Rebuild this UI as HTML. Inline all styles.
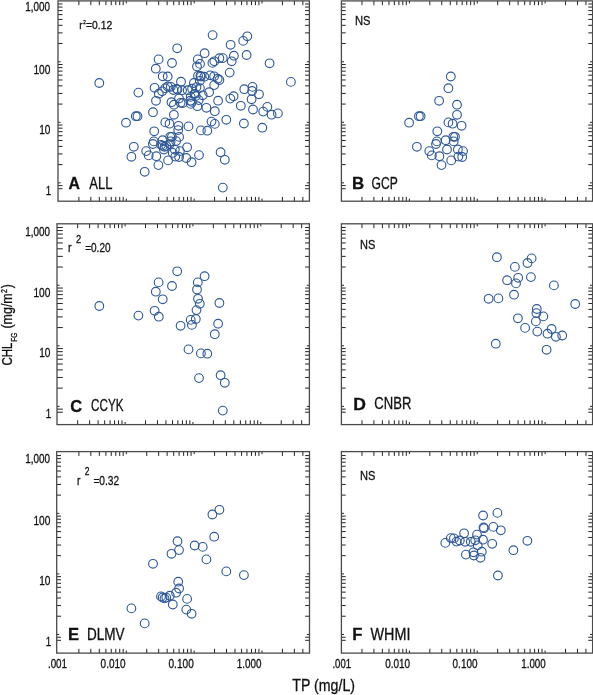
<!DOCTYPE html>
<html><head><meta charset="utf-8"><title>CHL vs TP</title>
<style>
html,body{margin:0;padding:0;background:#fff;}
body{width:593px;height:695px;overflow:hidden;}
svg{display:block;font-family:"Liberation Sans",Arial,sans-serif;}
</style></head><body>
<svg width="593" height="695" viewBox="0 0 593 695">
<path d="M78.87 201.2v-4.3M78.87 0.9v4.3M90.82 201.2v-4.3M90.82 0.9v4.3M99.3 201.2v-4.3M99.3 0.9v4.3M105.88 201.2v-4.3M105.88 0.9v4.3M111.25 201.2v-4.3M111.25 0.9v4.3M115.79 201.2v-4.3M115.79 0.9v4.3M119.72 201.2v-4.3M119.72 0.9v4.3M123.2 201.2v-4.3M123.2 0.9v4.3M126.3 201.2v-2.6M126.3 0.9v2.6M146.72 201.2v-4.3M146.72 0.9v4.3M158.67 201.2v-4.3M158.67 0.9v4.3M167.15 201.2v-4.3M167.15 0.9v4.3M173.73 201.2v-4.3M173.73 0.9v4.3M179.1 201.2v-4.3M179.1 0.9v4.3M183.64 201.2v-4.3M183.64 0.9v4.3M187.57 201.2v-4.3M187.57 0.9v4.3M191.05 201.2v-4.3M191.05 0.9v4.3M194.15 201.2v-2.6M194.15 0.9v2.6M214.57 201.2v-4.3M214.57 0.9v4.3M226.52 201.2v-4.3M226.52 0.9v4.3M235 201.2v-4.3M235 0.9v4.3M241.58 201.2v-4.3M241.58 0.9v4.3M246.95 201.2v-4.3M246.95 0.9v4.3M251.49 201.2v-4.3M251.49 0.9v4.3M255.42 201.2v-4.3M255.42 0.9v4.3M258.9 201.2v-4.3M258.9 0.9v4.3M262 201.2v-2.6M262 0.9v2.6M282.42 201.2v-4.3M282.42 0.9v4.3M294.37 201.2v-4.3M294.37 0.9v4.3M302.85 201.2v-4.3M302.85 0.9v4.3M58 188.72h4.5M309.4 188.72h-4.3M58 185.62h4.5M309.4 185.62h-4.3M58 182.85h2.6M309.4 182.85h-2.6M58 164.62h4.5M309.4 164.62h-4.3M58 153.96h4.5M309.4 153.96h-4.3M58 146.4h4.5M309.4 146.4h-4.3M58 140.53h4.5M309.4 140.53h-4.3M58 135.73h4.5M309.4 135.73h-4.3M58 131.68h4.5M309.4 131.68h-4.3M58 128.17h4.5M309.4 128.17h-4.3M58 125.07h4.5M309.4 125.07h-4.3M58 122.3h2.6M309.4 122.3h-2.6M58 104.07h4.5M309.4 104.07h-4.3M58 93.41h4.5M309.4 93.41h-4.3M58 85.85h4.5M309.4 85.85h-4.3M58 79.98h4.5M309.4 79.98h-4.3M58 75.18h4.5M309.4 75.18h-4.3M58 71.13h4.5M309.4 71.13h-4.3M58 67.62h4.5M309.4 67.62h-4.3M58 64.52h4.5M309.4 64.52h-4.3M58 61.75h2.6M309.4 61.75h-2.6M58 43.52h4.5M309.4 43.52h-4.3M58 32.86h4.5M309.4 32.86h-4.3M58 25.3h4.5M309.4 25.3h-4.3M58 19.43h4.5M309.4 19.43h-4.3M58 14.63h4.5M309.4 14.63h-4.3M58 10.58h4.5M309.4 10.58h-4.3M58 7.07h4.5M309.4 7.07h-4.3M58 3.97h4.5M309.4 3.97h-4.3" stroke="#222" stroke-width="1" fill="none"/>
<rect x="58" y="0.9" width="251.4" height="200.3" fill="none" stroke="#4a4a4a" stroke-width="1.3"/>
<path d="M361.97 201.2v-4.3M361.97 0.9v4.3M373.92 201.2v-4.3M373.92 0.9v4.3M382.4 201.2v-4.3M382.4 0.9v4.3M388.98 201.2v-4.3M388.98 0.9v4.3M394.35 201.2v-4.3M394.35 0.9v4.3M398.89 201.2v-4.3M398.89 0.9v4.3M402.82 201.2v-4.3M402.82 0.9v4.3M406.3 201.2v-4.3M406.3 0.9v4.3M409.4 201.2v-2.6M409.4 0.9v2.6M429.82 201.2v-4.3M429.82 0.9v4.3M441.77 201.2v-4.3M441.77 0.9v4.3M450.25 201.2v-4.3M450.25 0.9v4.3M456.83 201.2v-4.3M456.83 0.9v4.3M462.2 201.2v-4.3M462.2 0.9v4.3M466.74 201.2v-4.3M466.74 0.9v4.3M470.67 201.2v-4.3M470.67 0.9v4.3M474.15 201.2v-4.3M474.15 0.9v4.3M477.25 201.2v-2.6M477.25 0.9v2.6M497.67 201.2v-4.3M497.67 0.9v4.3M509.62 201.2v-4.3M509.62 0.9v4.3M518.1 201.2v-4.3M518.1 0.9v4.3M524.68 201.2v-4.3M524.68 0.9v4.3M530.05 201.2v-4.3M530.05 0.9v4.3M534.59 201.2v-4.3M534.59 0.9v4.3M538.52 201.2v-4.3M538.52 0.9v4.3M542 201.2v-4.3M542 0.9v4.3M545.1 201.2v-2.6M545.1 0.9v2.6M565.52 201.2v-4.3M565.52 0.9v4.3M577.47 201.2v-4.3M577.47 0.9v4.3M585.95 201.2v-4.3M585.95 0.9v4.3M341.4 188.72h4.3M592.6 188.72h-4.3M341.4 185.62h4.3M592.6 185.62h-4.3M341.4 182.85h2.6M592.6 182.85h-2.6M341.4 164.62h4.3M592.6 164.62h-4.3M341.4 153.96h4.3M592.6 153.96h-4.3M341.4 146.4h4.3M592.6 146.4h-4.3M341.4 140.53h4.3M592.6 140.53h-4.3M341.4 135.73h4.3M592.6 135.73h-4.3M341.4 131.68h4.3M592.6 131.68h-4.3M341.4 128.17h4.3M592.6 128.17h-4.3M341.4 125.07h4.3M592.6 125.07h-4.3M341.4 122.3h2.6M592.6 122.3h-2.6M341.4 104.07h4.3M592.6 104.07h-4.3M341.4 93.41h4.3M592.6 93.41h-4.3M341.4 85.85h4.3M592.6 85.85h-4.3M341.4 79.98h4.3M592.6 79.98h-4.3M341.4 75.18h4.3M592.6 75.18h-4.3M341.4 71.13h4.3M592.6 71.13h-4.3M341.4 67.62h4.3M592.6 67.62h-4.3M341.4 64.52h4.3M592.6 64.52h-4.3M341.4 61.75h2.6M592.6 61.75h-2.6M341.4 43.52h4.3M592.6 43.52h-4.3M341.4 32.86h4.3M592.6 32.86h-4.3M341.4 25.3h4.3M592.6 25.3h-4.3M341.4 19.43h4.3M592.6 19.43h-4.3M341.4 14.63h4.3M592.6 14.63h-4.3M341.4 10.58h4.3M592.6 10.58h-4.3M341.4 7.07h4.3M592.6 7.07h-4.3M341.4 3.97h4.3M592.6 3.97h-4.3" stroke="#222" stroke-width="1" fill="none"/>
<rect x="341.4" y="0.9" width="251.2" height="200.3" fill="none" stroke="#4a4a4a" stroke-width="1.3"/>
<path d="M77.67 424.6v-4.3M77.67 223.8v4.3M89.62 424.6v-4.3M89.62 223.8v4.3M98.1 424.6v-4.3M98.1 223.8v4.3M104.68 424.6v-4.3M104.68 223.8v4.3M110.05 424.6v-4.3M110.05 223.8v4.3M114.59 424.6v-4.3M114.59 223.8v4.3M118.52 424.6v-4.3M118.52 223.8v4.3M122 424.6v-4.3M122 223.8v4.3M125.1 424.6v-2.6M125.1 223.8v2.6M145.52 424.6v-4.3M145.52 223.8v4.3M157.47 424.6v-4.3M157.47 223.8v4.3M165.95 424.6v-4.3M165.95 223.8v4.3M172.53 424.6v-4.3M172.53 223.8v4.3M177.9 424.6v-4.3M177.9 223.8v4.3M182.44 424.6v-4.3M182.44 223.8v4.3M186.37 424.6v-4.3M186.37 223.8v4.3M189.85 424.6v-4.3M189.85 223.8v4.3M192.95 424.6v-2.6M192.95 223.8v2.6M213.37 424.6v-4.3M213.37 223.8v4.3M225.32 424.6v-4.3M225.32 223.8v4.3M233.8 424.6v-4.3M233.8 223.8v4.3M240.38 424.6v-4.3M240.38 223.8v4.3M245.75 424.6v-4.3M245.75 223.8v4.3M250.29 424.6v-4.3M250.29 223.8v4.3M254.22 424.6v-4.3M254.22 223.8v4.3M257.7 424.6v-4.3M257.7 223.8v4.3M260.8 424.6v-2.6M260.8 223.8v2.6M281.22 424.6v-4.3M281.22 223.8v4.3M293.17 424.6v-4.3M293.17 223.8v4.3M301.65 424.6v-4.3M301.65 223.8v4.3M57 412.22h5.8M309.4 412.22h-4.3M57 409.12h5.8M309.4 409.12h-4.3M57 406.35h2.6M309.4 406.35h-2.6M57 388.12h5.8M309.4 388.12h-4.3M57 377.46h5.8M309.4 377.46h-4.3M57 369.9h5.8M309.4 369.9h-4.3M57 364.03h5.8M309.4 364.03h-4.3M57 359.23h5.8M309.4 359.23h-4.3M57 355.18h5.8M309.4 355.18h-4.3M57 351.67h5.8M309.4 351.67h-4.3M57 348.57h5.8M309.4 348.57h-4.3M57 345.8h2.6M309.4 345.8h-2.6M57 327.57h5.8M309.4 327.57h-4.3M57 316.91h5.8M309.4 316.91h-4.3M57 309.35h5.8M309.4 309.35h-4.3M57 303.48h5.8M309.4 303.48h-4.3M57 298.68h5.8M309.4 298.68h-4.3M57 294.63h5.8M309.4 294.63h-4.3M57 291.12h5.8M309.4 291.12h-4.3M57 288.02h5.8M309.4 288.02h-4.3M57 285.25h2.6M309.4 285.25h-2.6M57 267.02h5.8M309.4 267.02h-4.3M57 256.36h5.8M309.4 256.36h-4.3M57 248.8h5.8M309.4 248.8h-4.3M57 242.93h5.8M309.4 242.93h-4.3M57 238.13h5.8M309.4 238.13h-4.3M57 234.08h5.8M309.4 234.08h-4.3M57 230.57h5.8M309.4 230.57h-4.3M57 227.47h5.8M309.4 227.47h-4.3" stroke="#222" stroke-width="1" fill="none"/>
<rect x="57" y="223.8" width="252.4" height="200.8" fill="none" stroke="#4a4a4a" stroke-width="1.3"/>
<path d="M361.97 424.6v-4.3M361.97 223.8v4.3M373.92 424.6v-4.3M373.92 223.8v4.3M382.4 424.6v-4.3M382.4 223.8v4.3M388.98 424.6v-4.3M388.98 223.8v4.3M394.35 424.6v-4.3M394.35 223.8v4.3M398.89 424.6v-4.3M398.89 223.8v4.3M402.82 424.6v-4.3M402.82 223.8v4.3M406.3 424.6v-4.3M406.3 223.8v4.3M409.4 424.6v-2.6M409.4 223.8v2.6M429.82 424.6v-4.3M429.82 223.8v4.3M441.77 424.6v-4.3M441.77 223.8v4.3M450.25 424.6v-4.3M450.25 223.8v4.3M456.83 424.6v-4.3M456.83 223.8v4.3M462.2 424.6v-4.3M462.2 223.8v4.3M466.74 424.6v-4.3M466.74 223.8v4.3M470.67 424.6v-4.3M470.67 223.8v4.3M474.15 424.6v-4.3M474.15 223.8v4.3M477.25 424.6v-2.6M477.25 223.8v2.6M497.67 424.6v-4.3M497.67 223.8v4.3M509.62 424.6v-4.3M509.62 223.8v4.3M518.1 424.6v-4.3M518.1 223.8v4.3M524.68 424.6v-4.3M524.68 223.8v4.3M530.05 424.6v-4.3M530.05 223.8v4.3M534.59 424.6v-4.3M534.59 223.8v4.3M538.52 424.6v-4.3M538.52 223.8v4.3M542 424.6v-4.3M542 223.8v4.3M545.1 424.6v-2.6M545.1 223.8v2.6M565.52 424.6v-4.3M565.52 223.8v4.3M577.47 424.6v-4.3M577.47 223.8v4.3M585.95 424.6v-4.3M585.95 223.8v4.3M341.4 412.22h4.3M592.6 412.22h-4.3M341.4 409.12h4.3M592.6 409.12h-4.3M341.4 406.35h2.6M592.6 406.35h-2.6M341.4 388.12h4.3M592.6 388.12h-4.3M341.4 377.46h4.3M592.6 377.46h-4.3M341.4 369.9h4.3M592.6 369.9h-4.3M341.4 364.03h4.3M592.6 364.03h-4.3M341.4 359.23h4.3M592.6 359.23h-4.3M341.4 355.18h4.3M592.6 355.18h-4.3M341.4 351.67h4.3M592.6 351.67h-4.3M341.4 348.57h4.3M592.6 348.57h-4.3M341.4 345.8h2.6M592.6 345.8h-2.6M341.4 327.57h4.3M592.6 327.57h-4.3M341.4 316.91h4.3M592.6 316.91h-4.3M341.4 309.35h4.3M592.6 309.35h-4.3M341.4 303.48h4.3M592.6 303.48h-4.3M341.4 298.68h4.3M592.6 298.68h-4.3M341.4 294.63h4.3M592.6 294.63h-4.3M341.4 291.12h4.3M592.6 291.12h-4.3M341.4 288.02h4.3M592.6 288.02h-4.3M341.4 285.25h2.6M592.6 285.25h-2.6M341.4 267.02h4.3M592.6 267.02h-4.3M341.4 256.36h4.3M592.6 256.36h-4.3M341.4 248.8h4.3M592.6 248.8h-4.3M341.4 242.93h4.3M592.6 242.93h-4.3M341.4 238.13h4.3M592.6 238.13h-4.3M341.4 234.08h4.3M592.6 234.08h-4.3M341.4 230.57h4.3M592.6 230.57h-4.3M341.4 227.47h4.3M592.6 227.47h-4.3" stroke="#222" stroke-width="1" fill="none"/>
<rect x="341.4" y="223.8" width="251.2" height="200.8" fill="none" stroke="#4a4a4a" stroke-width="1.3"/>
<path d="M78.87 653.1v-4.3M78.87 451.6v4.3M90.82 653.1v-4.3M90.82 451.6v4.3M99.3 653.1v-4.3M99.3 451.6v4.3M105.88 653.1v-4.3M105.88 451.6v4.3M111.25 653.1v-4.3M111.25 451.6v4.3M115.79 653.1v-4.3M115.79 451.6v4.3M119.72 653.1v-4.3M119.72 451.6v4.3M123.2 653.1v-4.3M123.2 451.6v4.3M126.3 653.1v-2.6M126.3 451.6v2.6M146.72 653.1v-4.3M146.72 451.6v4.3M158.67 653.1v-4.3M158.67 451.6v4.3M167.15 653.1v-4.3M167.15 451.6v4.3M173.73 653.1v-4.3M173.73 451.6v4.3M179.1 653.1v-4.3M179.1 451.6v4.3M183.64 653.1v-4.3M183.64 451.6v4.3M187.57 653.1v-4.3M187.57 451.6v4.3M191.05 653.1v-4.3M191.05 451.6v4.3M194.15 653.1v-2.6M194.15 451.6v2.6M214.57 653.1v-4.3M214.57 451.6v4.3M226.52 653.1v-4.3M226.52 451.6v4.3M235 653.1v-4.3M235 451.6v4.3M241.58 653.1v-4.3M241.58 451.6v4.3M246.95 653.1v-4.3M246.95 451.6v4.3M251.49 653.1v-4.3M251.49 451.6v4.3M255.42 653.1v-4.3M255.42 451.6v4.3M258.9 653.1v-4.3M258.9 451.6v4.3M262 653.1v-2.6M262 451.6v2.6M282.42 653.1v-4.3M282.42 451.6v4.3M294.37 653.1v-4.3M294.37 451.6v4.3M302.85 653.1v-4.3M302.85 451.6v4.3M56.7 640.32h4.3M309.5 640.32h-4.3M56.7 637.22h4.3M309.5 637.22h-4.3M56.7 634.45h2.6M309.5 634.45h-2.6M56.7 616.22h4.3M309.5 616.22h-4.3M56.7 605.56h4.3M309.5 605.56h-4.3M56.7 598h4.3M309.5 598h-4.3M56.7 592.13h4.3M309.5 592.13h-4.3M56.7 587.33h4.3M309.5 587.33h-4.3M56.7 583.28h4.3M309.5 583.28h-4.3M56.7 579.77h4.3M309.5 579.77h-4.3M56.7 576.67h4.3M309.5 576.67h-4.3M56.7 573.9h2.6M309.5 573.9h-2.6M56.7 555.67h4.3M309.5 555.67h-4.3M56.7 545.01h4.3M309.5 545.01h-4.3M56.7 537.45h4.3M309.5 537.45h-4.3M56.7 531.58h4.3M309.5 531.58h-4.3M56.7 526.78h4.3M309.5 526.78h-4.3M56.7 522.73h4.3M309.5 522.73h-4.3M56.7 519.22h4.3M309.5 519.22h-4.3M56.7 516.12h4.3M309.5 516.12h-4.3M56.7 513.35h2.6M309.5 513.35h-2.6M56.7 495.12h4.3M309.5 495.12h-4.3M56.7 484.46h4.3M309.5 484.46h-4.3M56.7 476.9h4.3M309.5 476.9h-4.3M56.7 471.03h4.3M309.5 471.03h-4.3M56.7 466.23h4.3M309.5 466.23h-4.3M56.7 462.18h4.3M309.5 462.18h-4.3M56.7 458.67h4.3M309.5 458.67h-4.3M56.7 455.57h4.3M309.5 455.57h-4.3" stroke="#222" stroke-width="1" fill="none"/>
<rect x="56.7" y="451.6" width="252.8" height="201.5" fill="none" stroke="#4a4a4a" stroke-width="1.3"/>
<path d="M361.97 653.1v-4.3M361.97 451.6v4.3M373.92 653.1v-4.3M373.92 451.6v4.3M382.4 653.1v-4.3M382.4 451.6v4.3M388.98 653.1v-4.3M388.98 451.6v4.3M394.35 653.1v-4.3M394.35 451.6v4.3M398.89 653.1v-4.3M398.89 451.6v4.3M402.82 653.1v-4.3M402.82 451.6v4.3M406.3 653.1v-4.3M406.3 451.6v4.3M409.4 653.1v-2.6M409.4 451.6v2.6M429.82 653.1v-4.3M429.82 451.6v4.3M441.77 653.1v-4.3M441.77 451.6v4.3M450.25 653.1v-4.3M450.25 451.6v4.3M456.83 653.1v-4.3M456.83 451.6v4.3M462.2 653.1v-4.3M462.2 451.6v4.3M466.74 653.1v-4.3M466.74 451.6v4.3M470.67 653.1v-4.3M470.67 451.6v4.3M474.15 653.1v-4.3M474.15 451.6v4.3M477.25 653.1v-2.6M477.25 451.6v2.6M497.67 653.1v-4.3M497.67 451.6v4.3M509.62 653.1v-4.3M509.62 451.6v4.3M518.1 653.1v-4.3M518.1 451.6v4.3M524.68 653.1v-4.3M524.68 451.6v4.3M530.05 653.1v-4.3M530.05 451.6v4.3M534.59 653.1v-4.3M534.59 451.6v4.3M538.52 653.1v-4.3M538.52 451.6v4.3M542 653.1v-4.3M542 451.6v4.3M545.1 653.1v-2.6M545.1 451.6v2.6M565.52 653.1v-4.3M565.52 451.6v4.3M577.47 653.1v-4.3M577.47 451.6v4.3M585.95 653.1v-4.3M585.95 451.6v4.3M341.4 640.32h4.3M592.6 640.32h-4.3M341.4 637.22h4.3M592.6 637.22h-4.3M341.4 634.45h2.6M592.6 634.45h-2.6M341.4 616.22h4.3M592.6 616.22h-4.3M341.4 605.56h4.3M592.6 605.56h-4.3M341.4 598h4.3M592.6 598h-4.3M341.4 592.13h4.3M592.6 592.13h-4.3M341.4 587.33h4.3M592.6 587.33h-4.3M341.4 583.28h4.3M592.6 583.28h-4.3M341.4 579.77h4.3M592.6 579.77h-4.3M341.4 576.67h4.3M592.6 576.67h-4.3M341.4 573.9h2.6M592.6 573.9h-2.6M341.4 555.67h4.3M592.6 555.67h-4.3M341.4 545.01h4.3M592.6 545.01h-4.3M341.4 537.45h4.3M592.6 537.45h-4.3M341.4 531.58h4.3M592.6 531.58h-4.3M341.4 526.78h4.3M592.6 526.78h-4.3M341.4 522.73h4.3M592.6 522.73h-4.3M341.4 519.22h4.3M592.6 519.22h-4.3M341.4 516.12h4.3M592.6 516.12h-4.3M341.4 513.35h2.6M592.6 513.35h-2.6M341.4 495.12h4.3M592.6 495.12h-4.3M341.4 484.46h4.3M592.6 484.46h-4.3M341.4 476.9h4.3M592.6 476.9h-4.3M341.4 471.03h4.3M592.6 471.03h-4.3M341.4 466.23h4.3M592.6 466.23h-4.3M341.4 462.18h4.3M592.6 462.18h-4.3M341.4 458.67h4.3M592.6 458.67h-4.3M341.4 455.57h4.3M592.6 455.57h-4.3" stroke="#222" stroke-width="1" fill="none"/>
<rect x="341.4" y="451.6" width="251.2" height="201.5" fill="none" stroke="#4a4a4a" stroke-width="1.3"/>
<g fill="none" stroke="#2d5797" stroke-width="1.1"><circle cx="167.7" cy="76.5" r="4.35"/><circle cx="165.3" cy="88.2" r="4.35"/><circle cx="156" cy="100.8" r="4.35"/><circle cx="173.9" cy="104.7" r="4.35"/><circle cx="173.9" cy="114.8" r="4.35"/><circle cx="135.8" cy="116.2" r="4.35"/><circle cx="137.5" cy="116.2" r="4.35"/><circle cx="126" cy="122.7" r="4.35"/><circle cx="165.3" cy="122.4" r="4.35"/><circle cx="169.5" cy="123.7" r="4.35"/><circle cx="178.5" cy="125.8" r="4.35"/><circle cx="154.2" cy="131.3" r="4.35"/><circle cx="153.8" cy="141.4" r="4.35"/><circle cx="152.9" cy="144" r="4.35"/><circle cx="162.6" cy="140.2" r="4.35"/><circle cx="170.2" cy="136.8" r="4.35"/><circle cx="171.9" cy="136.8" r="4.35"/><circle cx="170.6" cy="141.4" r="4.35"/><circle cx="133.8" cy="146.8" r="4.35"/><circle cx="163.9" cy="149.5" r="4.35"/><circle cx="174.8" cy="149.5" r="4.35"/><circle cx="179.9" cy="151.1" r="4.35"/><circle cx="146.2" cy="151.1" r="4.35"/><circle cx="148.7" cy="155.4" r="4.35"/><circle cx="156.3" cy="156.2" r="4.35"/><circle cx="168.1" cy="160.4" r="4.35"/><circle cx="175.3" cy="156.6" r="4.35"/><circle cx="179.1" cy="157" r="4.35"/><circle cx="158.4" cy="165.1" r="4.35"/><circle cx="99.3" cy="83" r="4.35"/><circle cx="138.4" cy="92.6" r="4.35"/><circle cx="177.2" cy="48.3" r="4.35"/><circle cx="158.6" cy="59.4" r="4.35"/><circle cx="172" cy="63" r="4.35"/><circle cx="155.8" cy="68.7" r="4.35"/><circle cx="162.7" cy="76.3" r="4.35"/><circle cx="154.6" cy="87.8" r="4.35"/><circle cx="158.8" cy="93.7" r="4.35"/><circle cx="180.6" cy="102.8" r="4.35"/><circle cx="204.6" cy="53.2" r="4.35"/><circle cx="197.8" cy="59.4" r="4.35"/><circle cx="197" cy="66.5" r="4.35"/><circle cx="198" cy="75.8" r="4.35"/><circle cx="199.8" cy="80.8" r="4.35"/><circle cx="219.4" cy="80" r="4.35"/><circle cx="196.5" cy="87.1" r="4.35"/><circle cx="195.8" cy="96" r="4.35"/><circle cx="190.7" cy="96.9" r="4.35"/><circle cx="191.9" cy="101.9" r="4.35"/><circle cx="218.1" cy="100.7" r="4.35"/><circle cx="214.8" cy="111.2" r="4.35"/><circle cx="188.5" cy="126.4" r="4.35"/><circle cx="200.9" cy="130.4" r="4.35"/><circle cx="207.3" cy="130.7" r="4.35"/><circle cx="199" cy="155.1" r="4.35"/><circle cx="220.6" cy="152.2" r="4.35"/><circle cx="224.8" cy="159.8" r="4.35"/><circle cx="222.8" cy="187.6" r="4.35"/><circle cx="212.6" cy="35.1" r="4.35"/><circle cx="230.6" cy="44.8" r="4.35"/><circle cx="243.2" cy="40.9" r="4.35"/><circle cx="247.3" cy="36.3" r="4.35"/><circle cx="222.8" cy="58.1" r="4.35"/><circle cx="233.9" cy="55.7" r="4.35"/><circle cx="231.7" cy="61.3" r="4.35"/><circle cx="246.6" cy="55" r="4.35"/><circle cx="269.6" cy="63.3" r="4.35"/><circle cx="229.7" cy="72.6" r="4.35"/><circle cx="204.3" cy="76.7" r="4.35"/><circle cx="214.1" cy="76.3" r="4.35"/><circle cx="290.9" cy="81.9" r="4.35"/><circle cx="252.5" cy="86.9" r="4.35"/><circle cx="252.1" cy="91" r="4.35"/><circle cx="259" cy="94.3" r="4.35"/><circle cx="233.6" cy="96.2" r="4.35"/><circle cx="251.6" cy="99.3" r="4.35"/><circle cx="240.8" cy="105.8" r="4.35"/><circle cx="253" cy="109.5" r="4.35"/><circle cx="267.3" cy="106.9" r="4.35"/><circle cx="263.2" cy="111.6" r="4.35"/><circle cx="271.6" cy="114.7" r="4.35"/><circle cx="277.9" cy="113.4" r="4.35"/><circle cx="211.5" cy="121.6" r="4.35"/><circle cx="262.3" cy="127.7" r="4.35"/><circle cx="219.4" cy="58.2" r="4.35"/><circle cx="212.4" cy="62.9" r="4.35"/><circle cx="214.2" cy="85.1" r="4.35"/><circle cx="177.5" cy="89.6" r="4.35"/><circle cx="194.7" cy="93.9" r="4.35"/><circle cx="202.7" cy="95.3" r="4.35"/><circle cx="179" cy="98.5" r="4.35"/><circle cx="171.5" cy="102.2" r="4.35"/><circle cx="206.4" cy="107.8" r="4.35"/><circle cx="153" cy="112.2" r="4.35"/><circle cx="226.3" cy="119.8" r="4.35"/><circle cx="243.9" cy="123.5" r="4.35"/><circle cx="178.2" cy="130.1" r="4.35"/><circle cx="179.1" cy="136.9" r="4.35"/><circle cx="176.1" cy="141.1" r="4.35"/><circle cx="169.8" cy="144.1" r="4.35"/><circle cx="161" cy="144.8" r="4.35"/><circle cx="162.6" cy="145.9" r="4.35"/><circle cx="164.5" cy="146.8" r="4.35"/><circle cx="166.3" cy="146" r="4.35"/><circle cx="172.8" cy="152.9" r="4.35"/><circle cx="187.1" cy="147.3" r="4.35"/><circle cx="186.3" cy="158" r="4.35"/><circle cx="191.6" cy="162.2" r="4.35"/><circle cx="131.4" cy="156.8" r="4.35"/><circle cx="144.7" cy="171.8" r="4.35"/><circle cx="214.3" cy="61.3" r="4.35"/><circle cx="200" cy="63.9" r="4.35"/><circle cx="200.4" cy="75.8" r="4.35"/><circle cx="200.9" cy="76.6" r="4.35"/><circle cx="210.2" cy="75.3" r="4.35"/><circle cx="217.7" cy="78.7" r="4.35"/><circle cx="181" cy="81.7" r="4.35"/><circle cx="193.9" cy="83" r="4.35"/><circle cx="244.3" cy="89.2" r="4.35"/><circle cx="162.2" cy="91.3" r="4.35"/><circle cx="167.7" cy="86.5" r="4.35"/><circle cx="170.8" cy="86.8" r="4.35"/><circle cx="173.4" cy="90" r="4.35"/><circle cx="176.7" cy="88.9" r="4.35"/><circle cx="182.1" cy="90.2" r="4.35"/><circle cx="187.7" cy="90.2" r="4.35"/><circle cx="192.1" cy="88.7" r="4.35"/><circle cx="199.9" cy="88.1" r="4.35"/><circle cx="209.1" cy="92.2" r="4.35"/><circle cx="194.6" cy="93.8" r="4.35"/><circle cx="230.3" cy="98.6" r="4.35"/><circle cx="198.7" cy="100.1" r="4.35"/><circle cx="190.3" cy="100.7" r="4.35"/><circle cx="182.8" cy="103" r="4.35"/><circle cx="190.8" cy="103.9" r="4.35"/><circle cx="197.4" cy="106.2" r="4.35"/><circle cx="214.8" cy="123.9" r="4.35"/><circle cx="450.8" cy="76.5" r="4.35"/><circle cx="448.4" cy="88.2" r="4.35"/><circle cx="439.1" cy="100.8" r="4.35"/><circle cx="457" cy="104.7" r="4.35"/><circle cx="457" cy="114.8" r="4.35"/><circle cx="418.9" cy="116.2" r="4.35"/><circle cx="420.6" cy="116.2" r="4.35"/><circle cx="409.1" cy="122.7" r="4.35"/><circle cx="448.4" cy="122.4" r="4.35"/><circle cx="452.6" cy="123.7" r="4.35"/><circle cx="461.6" cy="125.8" r="4.35"/><circle cx="437.3" cy="131.3" r="4.35"/><circle cx="436.9" cy="141.4" r="4.35"/><circle cx="436" cy="144" r="4.35"/><circle cx="445.7" cy="140.2" r="4.35"/><circle cx="453.3" cy="136.8" r="4.35"/><circle cx="455" cy="136.8" r="4.35"/><circle cx="453.7" cy="141.4" r="4.35"/><circle cx="416.9" cy="146.8" r="4.35"/><circle cx="447" cy="149.5" r="4.35"/><circle cx="457.9" cy="149.5" r="4.35"/><circle cx="463" cy="151.1" r="4.35"/><circle cx="429.3" cy="151.1" r="4.35"/><circle cx="431.8" cy="155.4" r="4.35"/><circle cx="439.4" cy="156.2" r="4.35"/><circle cx="451.2" cy="160.4" r="4.35"/><circle cx="458.4" cy="156.6" r="4.35"/><circle cx="462.2" cy="157" r="4.35"/><circle cx="441.5" cy="165.1" r="4.35"/><circle cx="99.3" cy="306" r="4.35"/><circle cx="138.4" cy="315.6" r="4.35"/><circle cx="177.2" cy="271.3" r="4.35"/><circle cx="158.6" cy="282.4" r="4.35"/><circle cx="172" cy="286" r="4.35"/><circle cx="155.8" cy="291.7" r="4.35"/><circle cx="162.7" cy="299.3" r="4.35"/><circle cx="154.6" cy="310.8" r="4.35"/><circle cx="158.8" cy="316.7" r="4.35"/><circle cx="180.6" cy="325.8" r="4.35"/><circle cx="204.6" cy="276.2" r="4.35"/><circle cx="197.8" cy="282.4" r="4.35"/><circle cx="197" cy="289.5" r="4.35"/><circle cx="198" cy="298.8" r="4.35"/><circle cx="199.8" cy="303.8" r="4.35"/><circle cx="219.4" cy="303" r="4.35"/><circle cx="196.5" cy="310.1" r="4.35"/><circle cx="195.8" cy="319" r="4.35"/><circle cx="190.7" cy="319.9" r="4.35"/><circle cx="191.9" cy="324.9" r="4.35"/><circle cx="218.1" cy="323.7" r="4.35"/><circle cx="214.8" cy="334.2" r="4.35"/><circle cx="188.5" cy="349.4" r="4.35"/><circle cx="200.9" cy="353.4" r="4.35"/><circle cx="207.3" cy="353.7" r="4.35"/><circle cx="199" cy="378.1" r="4.35"/><circle cx="220.6" cy="375.2" r="4.35"/><circle cx="224.8" cy="382.8" r="4.35"/><circle cx="222.8" cy="410.6" r="4.35"/><circle cx="496.9" cy="257.2" r="4.35"/><circle cx="514.9" cy="266.9" r="4.35"/><circle cx="527.5" cy="263" r="4.35"/><circle cx="531.6" cy="258.4" r="4.35"/><circle cx="507.1" cy="280.2" r="4.35"/><circle cx="518.2" cy="277.8" r="4.35"/><circle cx="516" cy="283.4" r="4.35"/><circle cx="530.9" cy="277.1" r="4.35"/><circle cx="553.9" cy="285.4" r="4.35"/><circle cx="514" cy="294.7" r="4.35"/><circle cx="488.6" cy="298.8" r="4.35"/><circle cx="498.4" cy="298.4" r="4.35"/><circle cx="575.2" cy="304" r="4.35"/><circle cx="536.8" cy="309" r="4.35"/><circle cx="536.4" cy="313.1" r="4.35"/><circle cx="543.3" cy="316.4" r="4.35"/><circle cx="517.9" cy="318.3" r="4.35"/><circle cx="535.9" cy="321.4" r="4.35"/><circle cx="525.1" cy="327.9" r="4.35"/><circle cx="537.3" cy="331.6" r="4.35"/><circle cx="551.6" cy="329" r="4.35"/><circle cx="547.5" cy="333.7" r="4.35"/><circle cx="555.9" cy="336.8" r="4.35"/><circle cx="562.2" cy="335.5" r="4.35"/><circle cx="495.8" cy="343.7" r="4.35"/><circle cx="546.6" cy="349.8" r="4.35"/><circle cx="219.4" cy="509.8" r="4.35"/><circle cx="212.4" cy="514.5" r="4.35"/><circle cx="214.2" cy="536.7" r="4.35"/><circle cx="177.5" cy="541.2" r="4.35"/><circle cx="194.7" cy="545.5" r="4.35"/><circle cx="202.7" cy="546.9" r="4.35"/><circle cx="179" cy="550.1" r="4.35"/><circle cx="171.5" cy="553.8" r="4.35"/><circle cx="206.4" cy="559.4" r="4.35"/><circle cx="153" cy="563.8" r="4.35"/><circle cx="226.3" cy="571.4" r="4.35"/><circle cx="243.9" cy="575.1" r="4.35"/><circle cx="178.2" cy="581.7" r="4.35"/><circle cx="179.1" cy="588.5" r="4.35"/><circle cx="176.1" cy="592.7" r="4.35"/><circle cx="169.8" cy="595.7" r="4.35"/><circle cx="161" cy="596.4" r="4.35"/><circle cx="162.6" cy="597.5" r="4.35"/><circle cx="164.5" cy="598.4" r="4.35"/><circle cx="166.3" cy="597.6" r="4.35"/><circle cx="172.8" cy="604.5" r="4.35"/><circle cx="187.1" cy="598.9" r="4.35"/><circle cx="186.3" cy="609.6" r="4.35"/><circle cx="191.6" cy="613.8" r="4.35"/><circle cx="131.4" cy="608.4" r="4.35"/><circle cx="144.7" cy="623.4" r="4.35"/><circle cx="497.4" cy="512.9" r="4.35"/><circle cx="483.1" cy="515.5" r="4.35"/><circle cx="483.5" cy="527.4" r="4.35"/><circle cx="484" cy="528.2" r="4.35"/><circle cx="493.3" cy="526.9" r="4.35"/><circle cx="500.8" cy="530.3" r="4.35"/><circle cx="464.1" cy="533.3" r="4.35"/><circle cx="477" cy="534.6" r="4.35"/><circle cx="527.4" cy="540.8" r="4.35"/><circle cx="445.3" cy="542.9" r="4.35"/><circle cx="450.8" cy="538.1" r="4.35"/><circle cx="453.9" cy="538.4" r="4.35"/><circle cx="456.5" cy="541.6" r="4.35"/><circle cx="459.8" cy="540.5" r="4.35"/><circle cx="465.2" cy="541.8" r="4.35"/><circle cx="470.8" cy="541.8" r="4.35"/><circle cx="475.2" cy="540.3" r="4.35"/><circle cx="483" cy="539.7" r="4.35"/><circle cx="492.2" cy="543.8" r="4.35"/><circle cx="477.7" cy="545.4" r="4.35"/><circle cx="513.4" cy="550.2" r="4.35"/><circle cx="481.8" cy="551.7" r="4.35"/><circle cx="473.4" cy="552.3" r="4.35"/><circle cx="465.9" cy="554.6" r="4.35"/><circle cx="473.9" cy="555.5" r="4.35"/><circle cx="480.5" cy="557.8" r="4.35"/><circle cx="497.9" cy="575.5" r="4.35"/></g>
<g fill="#111" stroke="#111" stroke-width="0.3"><text transform="translate(25.36,10.8) scale(0.8229,1)" font-size="12.00">1,000</text><text transform="translate(33.44,73.5) scale(0.7816,1)" font-size="13.00">100</text><text transform="translate(39.14,133.9) scale(0.8034,1)" font-size="12.57">10</text><text transform="translate(45.7,194.7) scale(0.8000,1)" font-size="12.17">1</text><text transform="translate(25.36,235.65) scale(0.8229,1)" font-size="12.00">1,000</text><text transform="translate(33.44,296.9) scale(0.7816,1)" font-size="13.00">100</text><text transform="translate(39.14,357.3) scale(0.8034,1)" font-size="12.57">10</text><text transform="translate(45.7,418.3) scale(0.8000,1)" font-size="12.17">1</text><text transform="translate(25.36,462.6) scale(0.8229,1)" font-size="12.00">1,000</text><text transform="translate(33.44,524.5) scale(0.7816,1)" font-size="13.00">100</text><text transform="translate(39.14,585.1) scale(0.8034,1)" font-size="12.57">10</text><text transform="translate(45.7,646.3) scale(0.8000,1)" font-size="12.17">1</text><text transform="translate(47.91,667.8) scale(0.8195,1)" font-size="12.00">.001</text><text transform="translate(100.6,667.8) scale(0.8316,1)" font-size="12.00">0.010</text><text transform="translate(168.5,667.8) scale(0.8419,1)" font-size="12.00">0.100</text><text transform="translate(236.86,667.8) scale(0.8194,1)" font-size="12.00">1.000</text><text transform="translate(332.44,667.8) scale(0.7965,1)" font-size="12.00">.001</text><text transform="translate(385.3,667.8) scale(0.8282,1)" font-size="12.00">0.010</text><text transform="translate(452.6,667.8) scale(0.8282,1)" font-size="12.00">0.100</text><text transform="translate(521.27,667.8) scale(0.8159,1)" font-size="12.00">1.000</text><text transform="translate(68.5,188.9) scale(0.9411,1)" font-size="16.81" font-weight="bold">A</text><text transform="translate(351.9,188.9) scale(1.0044,1)" font-size="16.81" font-weight="bold">B</text><text transform="translate(70.14,411.7) scale(1.0125,1)" font-size="16.29" font-weight="bold">C</text><text transform="translate(353.26,409.6) scale(1.0819,1)" font-size="16.23" font-weight="bold">D</text><text transform="translate(68.12,640) scale(0.9729,1)" font-size="17.10" font-weight="bold">E</text><text transform="translate(352.32,640) scale(1.0000,1)" font-size="16.67" font-weight="bold">F</text><text transform="translate(89.3,188.9) scale(0.8211,1)" font-size="15.80">ALL</text><text transform="translate(371.59,188.9) scale(0.7635,1)" font-size="15.86">GCP</text><text transform="translate(91.12,411.3) scale(0.7430,1)" font-size="15.71">CCYK</text><text transform="translate(374.35,409.3) scale(0.8383,1)" font-size="15.57">CNBR</text><text transform="translate(87.02,640) scale(0.8336,1)" font-size="16.23">DLMV</text><text transform="translate(370.53,640) scale(0.8619,1)" font-size="16.67">WHMI</text><text transform="translate(354.9,25) scale(0.8514,1)" font-size="13.14">NS</text><text transform="translate(360.12,249.3) scale(0.8775,1)" font-size="12.57">NS</text><text transform="translate(360.01,480.1) scale(0.8547,1)" font-size="13.00">NS</text><text transform="translate(79.25,29.2) scale(0.8500,1)" font-size="11.48">r</text><text transform="translate(83.22,23.9) scale(0.8500,1)" font-size="5.43">2</text><text transform="translate(86.08,29.2) scale(0.8926,1)" font-size="11.57">=0.12</text><text transform="translate(68,252.4) scale(0.8500,1)" font-size="12.41">r</text><text transform="translate(75.96,242.7) scale(0.8500,1)" font-size="11.00">2</text><text transform="translate(85.2,252.4) scale(0.8252,1)" font-size="12.14">=0.20</text><text transform="translate(76.91,484.8) scale(0.8500,1)" font-size="12.04">r</text><text transform="translate(84.79,475.3) scale(0.8500,1)" font-size="10.00">2</text><text transform="translate(93.39,485) scale(0.8405,1)" font-size="12.14">=0.32</text><text transform="translate(292.22,690.8) scale(0.8508,1)" font-size="16.69">TP (mg/L)</text></g>
<g fill="#111" stroke="#111" stroke-width="0.3" transform="translate(11.9,364.9) rotate(-90)"><text transform="translate(-0.57,0) scale(0.7604,1)" font-size="15.00">CHL</text><text transform="translate(23.08,5) scale(0.7433,1)" font-size="8.71">FG</text><text transform="translate(36.35,0) scale(0.8296,1)" font-size="15.03">(mg/m</text><text transform="translate(71.8,-4.7) scale(0.8500,1)" font-size="8.29">2</text><text transform="translate(76.6,0) scale(0.8000,1)" font-size="15.03">)</text></g>
</svg>
</body></html>
